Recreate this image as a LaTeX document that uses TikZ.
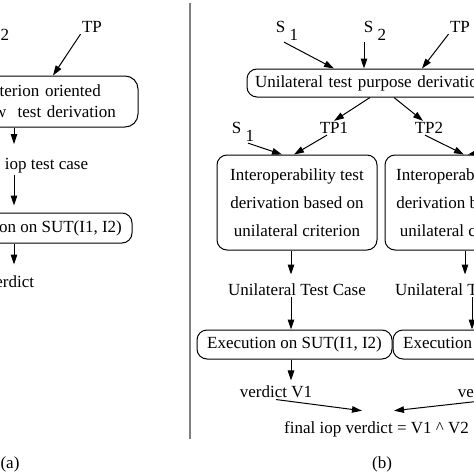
\documentclass[tikz,border=0pt]{standalone}
\usepackage{fontspec}
\setmainfont{Liberation Serif}
\usetikzlibrary{arrows.meta}

\begin{document}
\begin{tikzpicture}[x=1pt, y=-1pt, line width=1pt,
    every node/.style={font=\fontsize{17}{21}\selectfont},
    box/.style={draw, rounded corners=10pt, align=center, inner sep=0pt},
    lbl/.style={inner sep=1pt},
    arr/.style={-{Triangle[length=10pt,width=6.5pt]}}]

    \useasboundingbox (0,0) rectangle (474,474);
    \clip (0,0) rectangle (474,474);

    % Panel (a)
    \node[lbl] (s2a) at (-2,31) {S \raisebox{-8pt}{2}};
    \node[lbl] (tpa) at (92,27) {TP};
    \node[box, rounded corners=13pt, text width=150pt, align=left, inner xsep=10pt, minimum height=51pt] (crit) at (53,101.5) {Criterion oriented\\new\ \ test derivation};
    \node[lbl, anchor=west] (iopa) at (3.5,166) {iop test case};
    \node[box, minimum width=195pt, minimum height=30pt] (execa) at (34.5,228) {Execution on SUT(I1, I2)};
    \node[lbl] (verda) at (10.5,282) {verdict};
    \node (capa) at (10,464) {(a)};
    \coordinate (axa) at (14,0);

    \draw[arr] (tpa.south west) -- (crit.north);
    \draw[arr, shorten >=13pt] (crit.south -| axa) -- (iopa.north -| axa);
    \draw[arr, shorten >=7pt] (iopa.south -| axa) -- (execa.north -| axa);
    \draw[arr, shorten >=10pt] (execa.south -| axa) -- (verda.north -| axa);

    % Divider
    \draw[gray, line width=1.5pt] (190,3) -- (190,439);

    % Panel (b)
    \node[lbl] (s1b) at (287,31) {S \raisebox{-8pt}{1}};
    \node[lbl] (s2b) at (375,31) {S \raisebox{-8pt}{2}};
    \node[lbl] (tpb) at (460,27) {TP};
    \node[box, minimum width=270pt, minimum height=28pt, text width=254pt, align=left, inner xsep=8pt] (ubox) at (382,83) {Unilateral test purpose derivation};

    \draw[arr] ([xshift=-3pt]s1b.south) -- ([xshift=-48pt]ubox.north);
    \draw[arr] ([xshift=-18pt]ubox.north |- s2b.south) -- ([xshift=-18pt]ubox.north);
    \draw[arr] (tpb.south west) -- ([xshift=40pt]ubox.north);

    \node[lbl] (tp1b) at (334,128) {TP1};
    \node[lbl] (tp2b) at (429,128) {TP2};
    \draw[arr] ([xshift=-12pt]ubox.south) -- (tp1b.north);
    \draw[arr] ([xshift=12pt]ubox.south) -- ([xshift=-6pt]tp2b.north);

    % Interoperability test derivation
    \node[lbl] (s1c) at (243,132) {S \raisebox{-8pt}{1}};
    \node[lbl] (s2c) at (530,132) {S \raisebox{-8pt}{2}};
    \node[box, minimum width=160pt, minimum height=95pt, font=\fontsize{17}{28}\selectfont] (iopl) at (297,202.5) {Interoperability test\\derivation based on\\unilateral criterion};
    \node[box, minimum width=156pt, minimum height=95pt, font=\fontsize{17}{28}\selectfont] (iopr) at (463,202.5) {Interoperability test\\derivation based on\\unilateral criterion};

    \draw[arr] ([xshift=5pt]s1c.south) -- ([xshift=-15pt]iopl.north);
    \draw[arr] ([xshift=-7pt]tp1b.south) -- ([xshift=-3pt]iopl.north);
    \draw[arr] ([xshift=-4pt]tp2b.south) -- ([xshift=1pt]iopr.north);
    \draw[arr] ([xshift=-5pt]s2c.south) -- ([xshift=5pt]iopr.north);

    % Execution
    \node[lbl] (utcl) at (297,290) {Unilateral Test Case};
    \node[lbl] (utcr) at (464,290) {Unilateral Test Case};
    \node[box, minimum width=195pt, minimum height=29pt] (execl) at (294.5,344.5) {Execution on SUT(I1, I2)};
    \node[box, minimum width=195pt, minimum height=29pt] (execr) at (490.5,344.5) {Execution on SUT(I1, I2)};
    \coordinate (cl) at (291,0);
    \coordinate (cr) at (465,0);
    \coordinate (cr2) at (472,0);

    \draw[arr, shorten >=8pt] (iopl.south -| cl) -- (utcl.north -| cl);
    \draw[arr] (utcl.south -| cl) -- (execl.north -| cl);
    \draw[arr, shorten >=8pt] (iopr.south -| cr) -- (utcr.north -| cr);
    \draw[arr] (utcr.south -| cr2) -- (execr.north -| cr2);

    % Verdicts
    \node[lbl] (vl) at (276,392) {verdict V1};
    \node[lbl] (vr) at (494,392) {verdict V2};
    \node[lbl] (fin) at (376.5,429) {final iop verdict = V1 \textasciicircum{} V2};
    \node (capb) at (382,464) {(b)};

    \draw[arr, shorten >=4pt] (execl.south -| cl) -- (vl.north -| cl);
    \draw[arr, shorten >=4pt] (execr.south -| vr) -- (vr.north);
    \draw[arr] (vl.south) -- ([xshift=-14.5pt,yshift=9pt]fin.north);
    \draw[arr] (vr.south) -- ([xshift=17.5pt,yshift=9pt]fin.north);

\end{tikzpicture}
\end{document}
